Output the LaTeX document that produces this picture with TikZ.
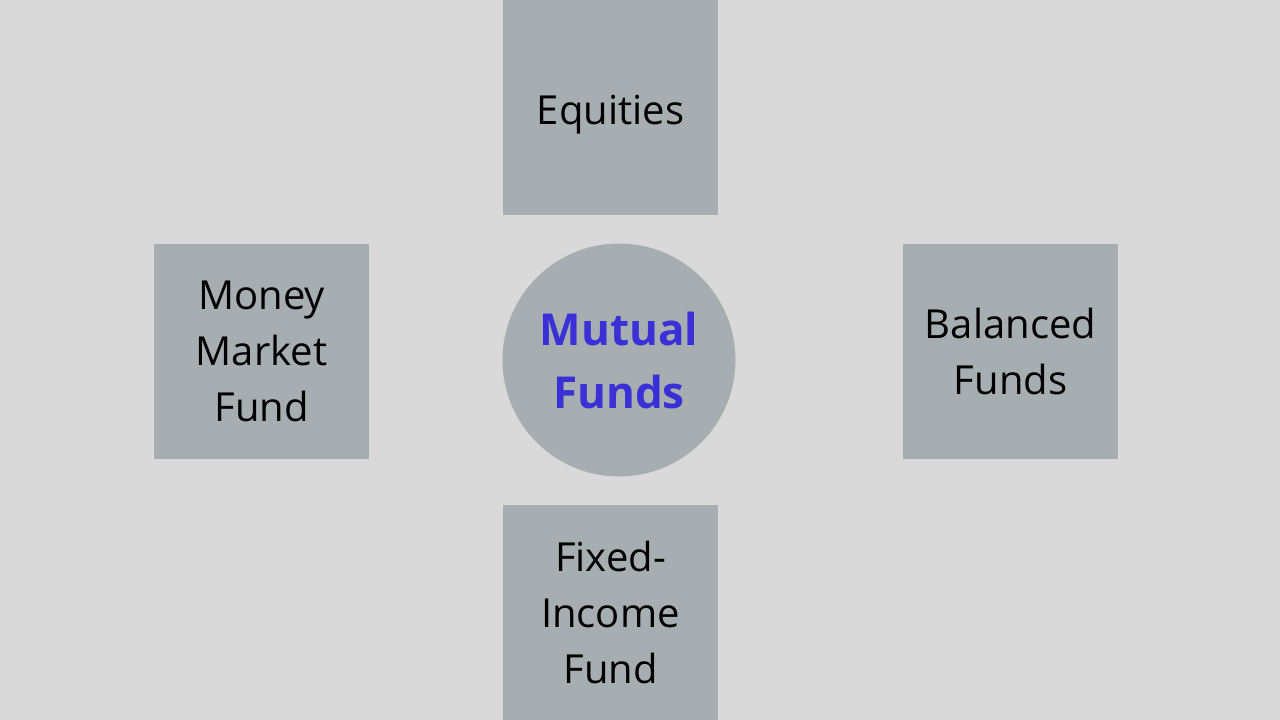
\documentclass[tikz,border=0pt]{standalone}
\usepackage{fontspec}
\setmainfont{Open Sans}
\definecolor{bgc}{HTML}{D9D9D9}
\definecolor{boxc}{HTML}{A7AEB1}
\definecolor{bluec}{HTML}{3B30D6}
\tikzset{
  catbox/.style={rectangle, fill=boxc, minimum width=215pt, minimum height=215pt, inner sep=0pt, align=center, text width=200pt, font=\fontsize{40}{56}\selectfont},
  cattext/.style={inner sep=0pt, align=center, font=\fontsize{40}{56}\selectfont},
  hub/.style={circle, fill=boxc, minimum size=233pt, inner sep=0pt, align=center, text=bluec, font=\fontsize{44}{63}\selectfont\bfseries}
}
\begin{document}
\begin{tikzpicture}[x=1pt,y=-1pt]
\fill[bgc] (0,0) rectangle (1280,720);
\useasboundingbox (0,0) rectangle (1280,720);
\node[catbox] (eq) at (610.5,107.5) {};
\node[cattext] (eqt) at ([yshift=-7pt]eq.center) {Equities};
\node[catbox] (mm) at (261.5,351.5) {Money\\Market\\Fund};
\node[catbox] (bf) at (1010.5,351.5) {Balanced\\Funds};
\node[catbox] (fi) at (610.5,612.5) {Fixed-\\Income\\Fund};
\node[hub] (mf) at (619,360) {Mutual\\Funds};
\end{tikzpicture}
\end{document}
